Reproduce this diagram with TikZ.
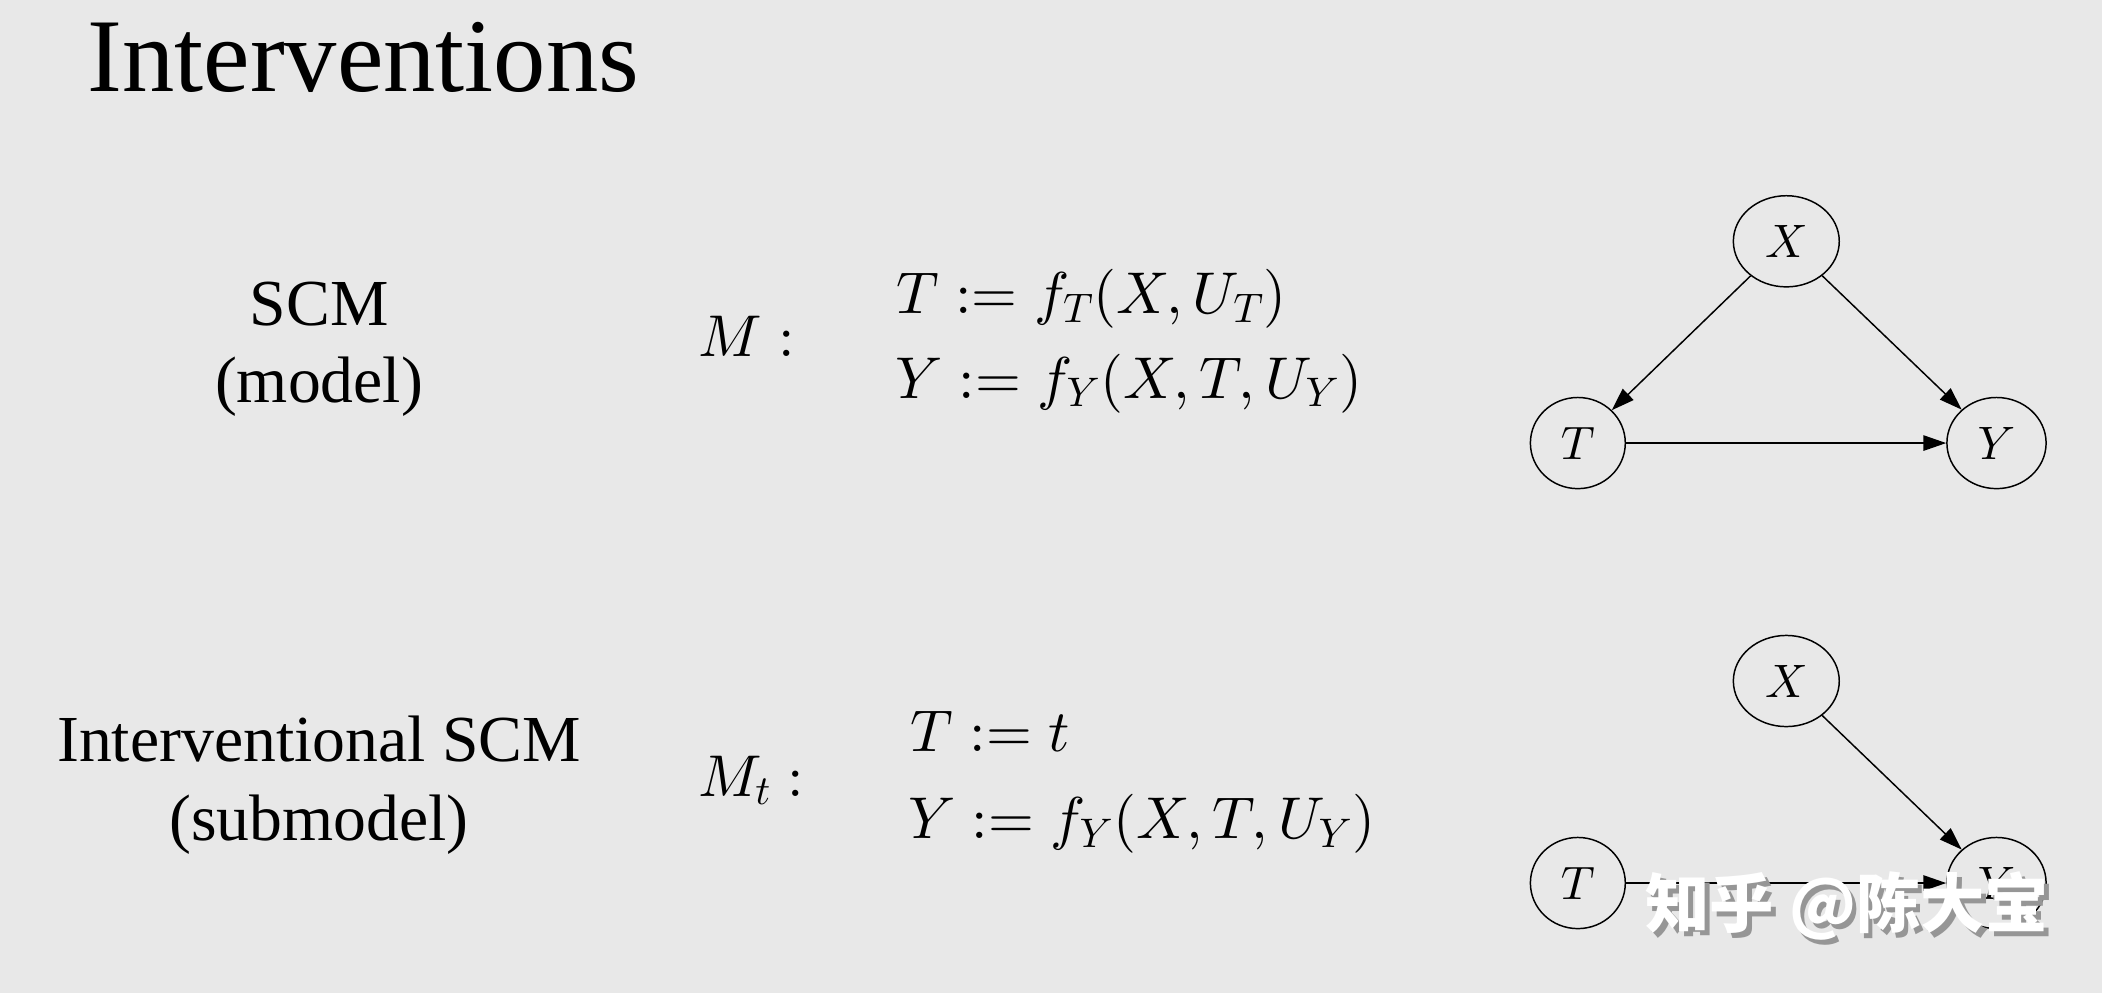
\documentclass[tikz,border=0pt]{standalone}
\usepackage{fontspec}
\usepackage{amsmath}
\usetikzlibrary{arrows.meta,shapes.geometric}
\DeclareFontFamily{OML}{cmm}{\skewchar\font127 }
\DeclareFontShape{OML}{cmm}{m}{it}{<->cmmi10}{}
\DeclareFontFamily{OT1}{cmr}{\hyphenchar\font45 }
\DeclareFontShape{OT1}{cmr}{m}{n}{<->cmr10}{}
\DeclareFontFamily{OMS}{cmsy}{\skewchar\font48 }
\DeclareFontShape{OMS}{cmsy}{m}{n}{<->cmsy10}{}
\newfontfamily\txtfont{Liberation Serif}
\newfontfamily\cjkfont{Noto Sans CJK SC}
\definecolor{bg}{RGB}{232,232,232}
\definecolor{shadowc}{RGB}{150,150,150}
\tikzset{
  ttl/.style={font=\txtfont\fontsize{78}{83}\selectfont, inner sep=0pt, anchor=base west},
  lbl/.style={font=\txtfont\fontsize{49}{55}\selectfont, inner sep=0pt, anchor=base},
  mth/.style={font=\fontsize{44}{50}\selectfont, inner sep=0pt, anchor=base west},
  gnode/.style={draw, ellipse, inner sep=0pt, minimum height=68pt, line width=1.1pt,
                font=\fontsize{35}{40}\selectfont},
  edge/.style={line width=1.1pt, -{Triangle[length=17pt,width=11.5pt]}},
  wm/.style={font=\cjkfont\bfseries\fontsize{48}{52}\selectfont, inner sep=0pt}
}
\begin{document}
\begin{tikzpicture}[x=1pt,y=-1pt]
\fill[bg] (0,0) rectangle (1568,741);
\useasboundingbox (0,0) rectangle (1568,741);

\node[ttl] (title) at (65,68) {Interventions};

\node[lbl] (scm) at (238,243) {SCM};
\node[lbl] (model) at (238,300) {(model)};
\node[lbl] (iscm) at (238,568) {Interventional SCM};
\node[lbl] (sub) at (238,627) {(submodel)};

\node[mth] (M) at (520.5,265.6) {$M:$};
\node[mth] (eqT) at (668.6,233.7) {$T:=f_T(X,U_T)$};
\node[mth] (eqY) at (667.6,297) {$Y:=f_Y(X,T,U_Y)$};
\node[mth] (Mt) at (520.5,593.8) {$M_t:$};
\node[mth] (eqT2) at (679.3,560.7) {$T:=t$};
\node[mth] (eqY2) at (677.3,625.3) {$Y:=f_Y(X,T,U_Y)$};

\node[gnode, minimum width=79pt] (x1) at (1332.5,180) {$X$};
\node[gnode, minimum width=70.8pt] (t1) at (1177,330.5) {$T$};
\node[gnode, minimum width=74pt] (y1) at (1489.3,330.5) {$Y$};
\draw[edge] (x1) -- (t1);
\draw[edge] (x1) -- (y1);
\draw[edge] (t1) -- (y1);

\node[gnode, minimum width=79pt] (x2) at (1332.5,508) {$X$};
\node[gnode, minimum width=70.8pt] (t2) at (1177,658.7) {$T$};
\node[gnode, minimum width=74pt] (y2) at (1489.3,658.7) {$Y$};
\draw[edge] (x2) -- (y2);
\draw[edge] (t2) -- (y2);

\node[wm, text=shadowc] (wmshadow) at (1381.5,679.5) {知乎 @陈大宝};
\node[wm, text=white] (wmark) at (1378,676) {知乎 @陈大宝};
\end{tikzpicture}
\end{document}
